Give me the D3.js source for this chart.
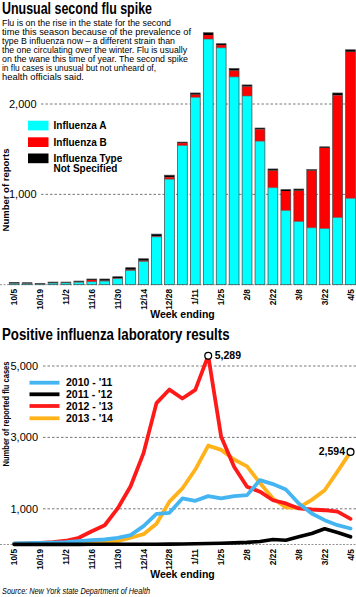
<!DOCTYPE html>
<html>
<head>
<meta charset="utf-8">
<script src="https://cdn.jsdelivr.net/npm/d3@7"></script>
<style>
  html, body { margin: 0; padding: 0; background: #fff; }
  svg { display: block; }
  text { font-family: "Liberation Sans Narrow", "Arial Narrow", "Liberation Sans", Arial, sans-serif; fill: #000; }
</style>
</head>
<body>
<svg id="chart" width="356" height="597"></svg>
<script>
const weeks = ["10/5","10/12","10/19","10/26","11/2","11/9","11/16","11/23","11/30","12/7","12/14","12/21","12/28","1/4","1/11","1/18","1/25","2/1","2/8","2/15","2/22","3/1","3/8","3/15","3/22","3/29","4/5"];
const weekTicks = ["10/5","10/19","11/2","11/16","11/30","12/14","12/28","1/11","1/25","2/8","2/22","3/8","3/22","4/5"];

// Top chart: reports by type
const fluA = [14, 12, 8, 18, 20, 28, 33, 40, 68, 158, 258, 530, 1168, 1541, 2074, 2719, 2622, 2300, 2089, 1589, 1074, 822, 700, 630, 622, 744, 956];
const fluB = [2, 2, 1, 2, 2, 3, 20, 5, 4, 8, 8, 6, 22, 26, 30, 44, 30, 70, 104, 130, 189, 215, 341, 633, 893, 1352, 1622];
const fluU = [10, 8, 6, 9, 7, 9, 10, 18, 16, 22, 21, 24, 22, 11, 18, 26, 15, 22, 18, 15, 18, 15, 18, 11, 11, 26, 22];
const topTicks = [1000, 2000];
const typeLabels = ["Influenza A", "Influenza B", "Influenza Type|Not Specified"];

// Bottom chart: positive lab results by season
const seasons = ["2010 - '11", "2011 - '12", "2012 - '13", "2013 - '14"];
const s2010 = [28, 35, 45, 55, 65, 93, 120, 140, 187, 262, 514, 860, 888, 1290, 1224, 1355, 1290, 1355, 1383, 1804, 1692, 1542, 1150, 869, 682, 542, 449];
const s2011 = [3, 3, 3, 3, 4, 4, 5, 5, 6, 7, 8, 9, 10, 15, 22, 30, 37, 45, 60, 85, 140, 120, 215, 310, 440, 335, 215];
const s2012 = [20, 28, 45, 65, 105, 188, 372, 540, 1010, 1630, 2560, 3960, 4340, 4090, 4330, 5289, 3020, 2180, 1620, 1480, 1240, 1150, 1010, 980, 960, 920, 720];
const s2013 = [26, 22, 15, 29, 29, 40, 63, 63, 90, 190, 290, 580, 1200, 1570, 2100, 2770, 2650, 2380, 2190, 1720, 1290, 1040, 1030, 1250, 1520, 2050, 2594];
const bottomTicks = [1000, 3000, 5000];

const bodyLines = [
  "Flu is on the rise in the state for the second",
  "time this season because of the prevalence of",
  "type B influenza now \u2013 a different strain than",
  "the one circulating over the winter. Flu is usually",
  "on the wane this time of year. The second spike",
  "in flu cases is unusual but not unheard of,",
  "health officials said."
];
const bodyEnds = [171, 191, 175, 187, 188, 156, 84];

const svg = d3.select("#chart");
const fmt = d3.format(",");

// ---------- Titles & text ----------
svg.append("text").attr("x", 2).attr("y", 14.3)
  .attr("font-size", 15.8).attr("font-weight", "bold")
  .attr("textLength", 150).attr("lengthAdjust", "spacingAndGlyphs")
  .text("Unusual second flu spike");

bodyLines.forEach((t, i) => {
  svg.append("text").attr("x", 2).attr("y", 25.5 + i * 9)
    .attr("font-size", 9)
    .attr("font-family", '"Liberation Sans", Arial, sans-serif')
    .attr("textLength", bodyEnds[i] - 2).attr("lengthAdjust", "spacingAndGlyphs")
    .text(t);
});

// ---------- Top chart ----------
const xb = d3.scaleBand().domain(weeks).range([7.7, 357]).paddingInner(0.24).paddingOuter(0.12);
const yt = d3.scaleLinear().domain([0, 2000]).range([284.7, 104]);

const gTop = svg.append("g");
gTop.selectAll("line.grid").data(topTicks).join("line")
  .attr("x1", 41).attr("x2", 356)
  .attr("y1", d => yt(d)).attr("y2", d => yt(d))
  .attr("stroke", "#555").attr("stroke-width", 0.8).attr("stroke-dasharray", "2.5,2");
gTop.append("line").attr("x1", 0).attr("x2", 356).attr("y1", yt(0)).attr("y2", yt(0))
  .attr("stroke", "#777").attr("stroke-width", 0.8).attr("stroke-dasharray", "2,1.5");
gTop.selectAll("text.tick").data(topTicks).join("text")
  .attr("x", 36.5).attr("y", d => yt(d) + 3.8).attr("text-anchor", "end")
  .attr("font-size", 11)
  .text(d => fmt(d));

const stackData = weeks.map((w, i) => ({ week: w, A: fluA[i], B: fluB[i], U: fluU[i] }));
const stack = d3.stack().keys(["A", "B", "U"])(stackData);
const typeColors = { A: "#00ffff", B: "#ff0000", U: "#000000" };

gTop.selectAll("g.layer").data(stack).join("g")
  .attr("fill", d => typeColors[d.key])
  .selectAll("rect").data(d => d).join("rect")
  .attr("x", d => xb(d.data.week))
  .attr("width", xb.bandwidth())
  .attr("y", d => yt(d[1]))
  .attr("height", d => yt(d[0]) - yt(d[1]));
gTop.selectAll("rect.outline").data(stackData).join("rect")
  .attr("x", d => xb(d.week))
  .attr("width", xb.bandwidth())
  .attr("y", d => yt(d.A + d.B + d.U))
  .attr("height", d => yt(0) - yt(d.A + d.B + d.U))
  .attr("fill", "none").attr("stroke", "#444").attr("stroke-width", 0.7);
gTop.selectAll("line.sep").data(stackData).join("line")
  .attr("x1", d => xb(d.week)).attr("x2", d => xb(d.week) + xb.bandwidth())
  .attr("y1", d => yt(d.A)).attr("y2", d => yt(d.A))
  .attr("stroke", "#555").attr("stroke-width", 0.6);

gTop.selectAll("text.xl").data(weekTicks).join("text")
  .attr("transform", d => `translate(${xb(d) + xb.bandwidth() / 2 + 3},289) rotate(-90)`)
  .attr("text-anchor", "end").attr("font-size", 8.3).attr("font-weight", "bold")
  .text(d => d);
svg.append("text").attr("x", 182.5).attr("y", 318).attr("text-anchor", "middle")
  .attr("font-size", 10.5).attr("font-weight", "bold").text("Week ending");
svg.append("text").attr("transform", "translate(8.5,190) rotate(-90)")
  .attr("text-anchor", "middle").attr("font-size", 9.5).attr("font-weight", "bold")
  .text("Number of reports");

// top legend
const legY = [120.7, 137.3, 153.5];
const legKeys = ["A", "B", "U"];
legKeys.forEach((k, i) => {
  svg.append("rect").attr("x", 28).attr("y", legY[i]).attr("width", 20.5).attr("height", 9.7)
    .attr("fill", typeColors[k]);
  const parts = typeLabels[i].split("|");
  parts.forEach((p, j) => {
    svg.append("text").attr("x", 53.5).attr("y", legY[i] + 8.5 + j * 10)
      .attr("font-size", 10).attr("font-weight", "bold").text(p);
  });
});

// ---------- Bottom chart ----------
svg.append("text").attr("x", 2).attr("y", 339.5)
  .attr("font-size", 16).attr("font-weight", "bold")
  .attr("textLength", 227.5).attr("lengthAdjust", "spacingAndGlyphs")
  .text("Positive influenza laboratory results");

const xp = d3.scalePoint().domain(weeks).range([xb("10/5") + xb.bandwidth() / 2, xb("4/5") + xb.bandwidth() / 2]);
const yb = d3.scaleLinear().domain([0, 5000]).range([544.5, 366]);

const gBot = svg.append("g");
gBot.selectAll("line.grid").data(bottomTicks).join("line")
  .attr("x1", 43).attr("x2", 356)
  .attr("y1", d => yb(d)).attr("y2", d => yb(d))
  .attr("stroke", "#555").attr("stroke-width", 0.8).attr("stroke-dasharray", "2.5,2");
gBot.append("line").attr("x1", 0).attr("x2", 356).attr("y1", yb(0)).attr("y2", yb(0))
  .attr("stroke", "#777").attr("stroke-width", 0.8).attr("stroke-dasharray", "2,1.5");
gBot.selectAll("text.tick").data(bottomTicks).join("text")
  .attr("x", 38).attr("y", d => yb(d) + 3.8).attr("text-anchor", "end")
  .attr("font-size", 11)
  .text(d => fmt(d));

const seriesData = [s2010, s2011, s2012, s2013];
const seriesColors = ["#45b5f2", "#000000", "#ff1a1a", "#ffb21a"];
const drawOrder = [3, 2, 0, 1];
const line = d3.line().x((d, i) => xp(weeks[i])).y(d => yb(d)).curve(d3.curveLinear);

drawOrder.forEach(si => {
  gBot.append("path").datum(seriesData[si])
    .attr("d", line).attr("fill", "none")
    .attr("stroke", seriesColors[si]).attr("stroke-width", si === 1 ? 3.6 : 3.8)
    .attr("stroke-linejoin", "round").attr("stroke-linecap", "round");
});

const peakIdx = s2012.indexOf(d3.max(s2012));
const lastIdx = weeks.length - 1;
gBot.append("circle").attr("cx", xp(weeks[peakIdx])).attr("cy", yb(s2012[peakIdx])).attr("r", 3.4)
  .attr("fill", "#fff").attr("stroke", "#000").attr("stroke-width", 1.3);
gBot.append("text").attr("x", xp(weeks[peakIdx]) + 6.5).attr("y", yb(s2012[peakIdx]) + 3.5)
  .attr("font-size", 10.5).attr("font-weight", "bold").text(fmt(s2012[peakIdx]));
gBot.append("circle").attr("cx", xp(weeks[lastIdx])).attr("cy", yb(s2013[lastIdx])).attr("r", 3.4)
  .attr("fill", "#fff").attr("stroke", "#000").attr("stroke-width", 1.3);
gBot.append("text").attr("x", xp(weeks[lastIdx]) - 5.5).attr("y", yb(s2013[lastIdx]) + 3.5)
  .attr("text-anchor", "end").attr("font-size", 10.5).attr("font-weight", "bold").text(fmt(s2013[lastIdx]));

const lLegY = [382.7, 394.3, 406, 418.3];
seasons.forEach((s, i) => {
  svg.append("line").attr("x1", 29.5).attr("x2", 59.5).attr("y1", lLegY[i]).attr("y2", lLegY[i])
    .attr("stroke", seriesColors[i]).attr("stroke-width", 3.8);
  svg.append("text").attr("x", 66).attr("y", lLegY[i] + 3.6)
    .attr("font-size", 10.5).attr("font-weight", "bold").text(s);
});

gBot.selectAll("text.xl").data(weekTicks).join("text")
  .attr("transform", d => `translate(${xp(d) + 3},549) rotate(-90)`)
  .attr("text-anchor", "end").attr("font-size", 8.3).attr("font-weight", "bold")
  .text(d => d);
svg.append("text").attr("x", 182.5).attr("y", 578).attr("text-anchor", "middle")
  .attr("font-size", 10.5).attr("font-weight", "bold").text("Week ending");
svg.append("text").attr("transform", "translate(8.5,414) rotate(-90)")
  .attr("text-anchor", "middle").attr("font-size", 9.5).attr("font-weight", "bold")
  .attr("textLength", 105).attr("lengthAdjust", "spacingAndGlyphs")
  .text("Number of reported flu cases");

svg.append("text").attr("x", 2).attr("y", 594)
  .attr("font-size", 9.3).attr("font-style", "italic")
  .attr("font-family", '"Liberation Sans", Arial, sans-serif')
  .attr("textLength", 148).attr("lengthAdjust", "spacingAndGlyphs")
  .text("Source: New York state Department of Health");
</script>
</body>
</html>
